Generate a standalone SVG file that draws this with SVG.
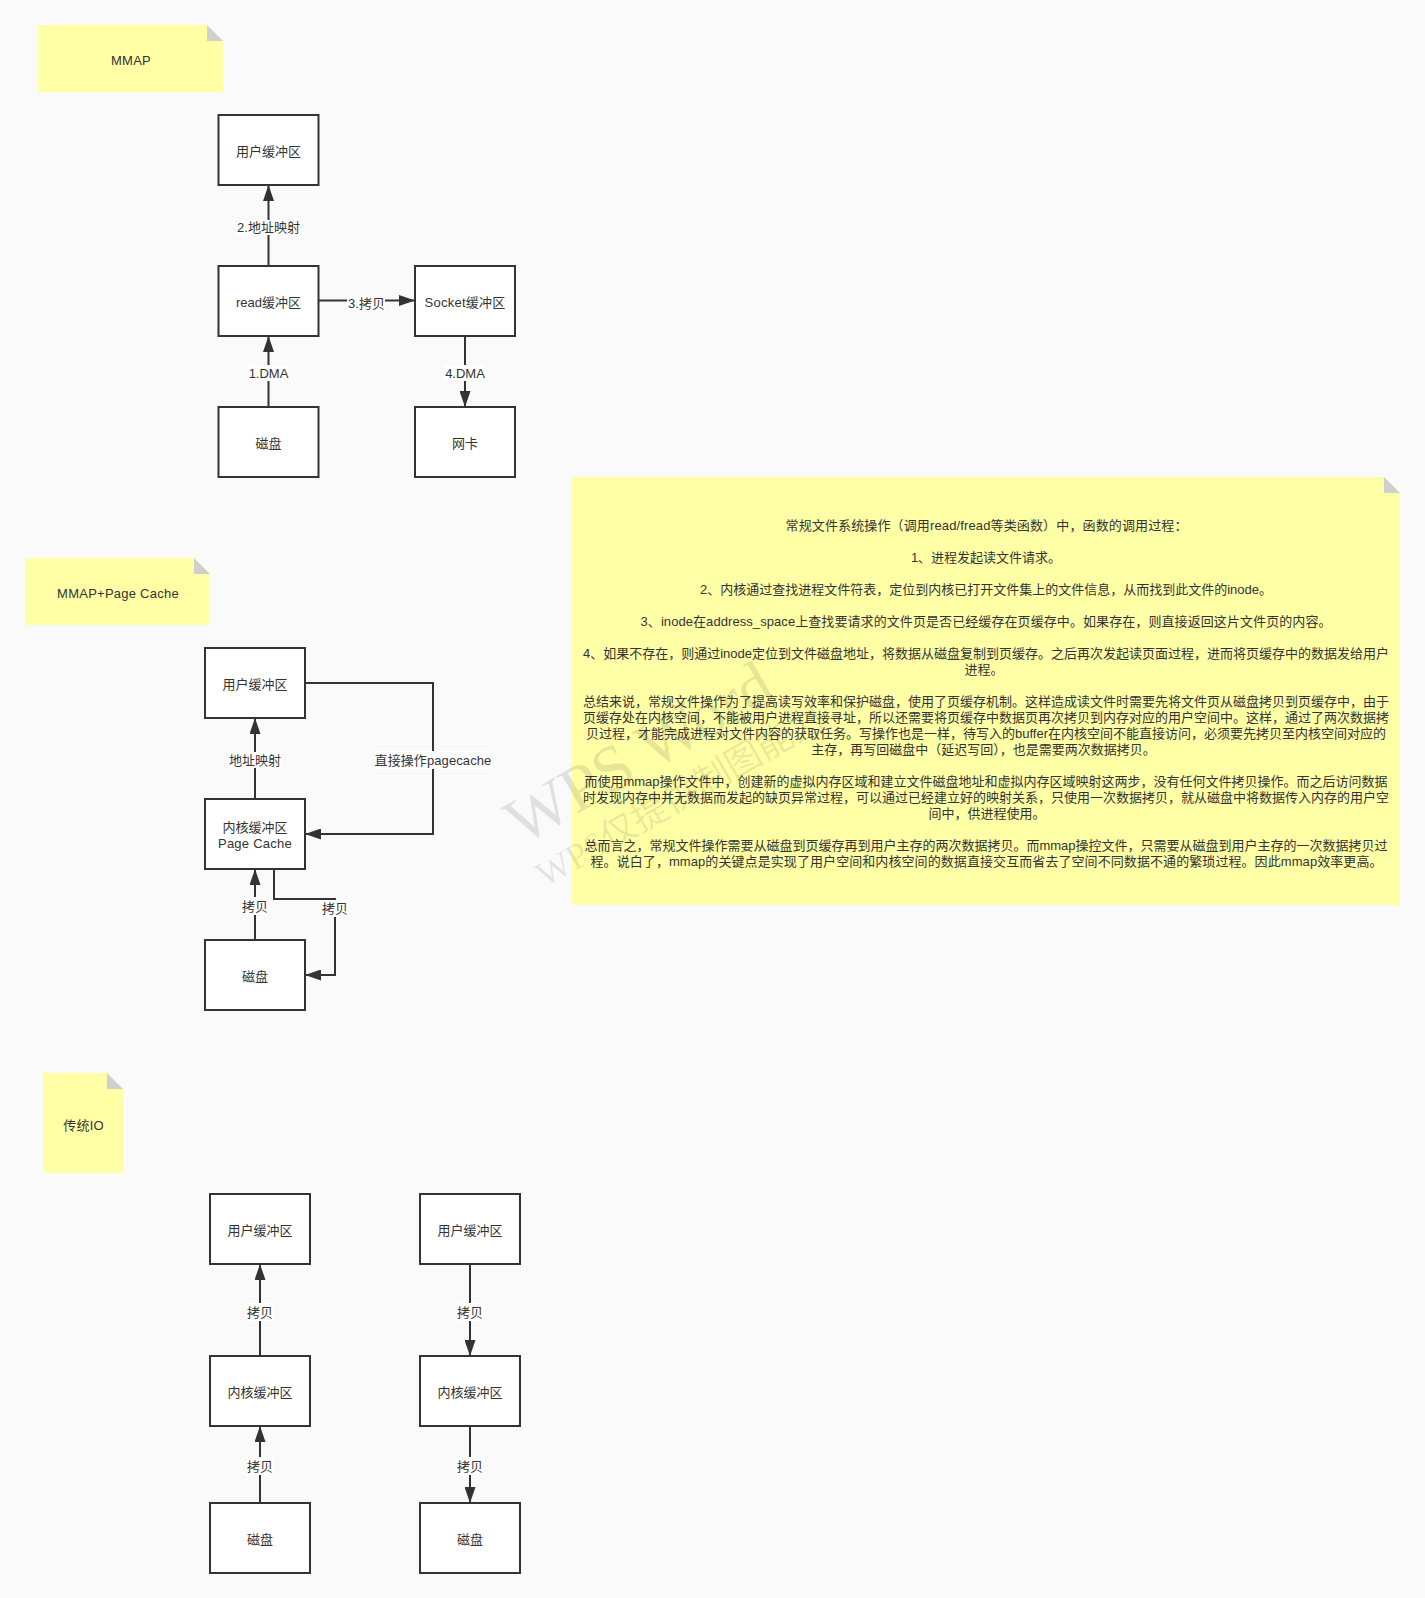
<svg xmlns="http://www.w3.org/2000/svg" width="1425" height="1598" viewBox="0 0 1425 1598">
<style>
text{font-family:"Liberation Sans","Noto Sans CJK SC",sans-serif;font-size:13px;fill:#333;text-anchor:middle}
.l{letter-spacing:.25px}
.box{fill:#fff;stroke:#333;stroke-width:2}
.note{fill:#ffffa6}
.fold{fill:#cfcfcf}
.c{fill:none;stroke:#333;stroke-width:2}
.a{marker-end:url(#ar)}
.lb{fill:#fff}
.wm1{font-family:"Liberation Serif","Noto Sans CJK SC",serif;font-size:66px;fill:#000;fill-opacity:.1;text-anchor:start}
.wm2{font-family:"Liberation Serif","Noto Sans CJK SC",serif;font-size:36px;fill:#000;fill-opacity:.09;text-anchor:start}
</style>
<defs>
<marker id="ar" markerUnits="userSpaceOnUse" viewBox="0 0 16 11" refX="16" refY="5.5" markerWidth="16" markerHeight="11" orient="auto"><path d="M0 0L16 5.500L0 11z" fill="#333"/></marker>
</defs>
<rect width="1425" height="1598" fill="#fafafa"/>
<g id="note-mmap">
<path class="note" d="M38 25H207L223 41V92H38z"/><path class="fold" d="M207 25L223 41H207z"/>
<text class="l" x="131" y="65">MMAP</text></g>
<g id="note-pagecache">
<path class="note" d="M25 558H194L210 574V625H25z"/><path class="fold" d="M194 558L210 574H194z"/>
<text class="l" x="118" y="598">MMAP+Page Cache</text></g>
<g id="note-io">
<path class="note" d="M43 1073H107L123 1089V1173H43z"/><path class="fold" d="M107 1073L123 1089H107z"/>
<text x="83.500" y="1130" class="l">传统IO</text></g>
<g id="note-text">
<path class="note" d="M572 477H1384L1400 493V905H572z"/><path class="fold" d="M1384 477L1400 493H1384z"/>
</g>
<g id="watermark">
<text class="wm1" transform="translate(522 846) rotate(-30)">WPS Word</text>
<text class="wm2" transform="translate(545 888) rotate(-30)">WPS仅提供制图能力</text>
</g>
<g id="note-text-lines">
<text x="986.500" y="529.500" textLength="402">常规文件系统操作（调用read/fread等类函数）中，函数的调用过程：</text>
<text x="986" y="561.500">1、进程发起读文件请求。</text>
<text x="986" y="593.500">2、内核通过查找进程文件符表，定位到内核已打开文件集上的文件信息，从而找到此文件的inode。</text>
<text x="986" y="625.500" textLength="691">3、inode在address_space上查找要请求的文件页是否已经缓存在页缓存中。如果存在，则直接返回这片文件页的内容。</text>
<text x="986" y="657.500">4、如果不存在，则通过inode定位到文件磁盘地址，将数据从磁盘复制到页缓存。之后再次发起读页面过程，进而将页缓存中的数据发给用户</text>
<text x="984" y="673.500">进程。</text>
<text x="986" y="705.500">总结来说，常规文件操作为了提高读写效率和保护磁盘，使用了页缓存机制。这样造成读文件时需要先将文件页从磁盘拷贝到页缓存中，由于</text>
<text x="986" y="721.500">页缓存处在内核空间，不能被用户进程直接寻址，所以还需要将页缓存中数据页再次拷贝到内存对应的用户空间中。这样，通过了两次数据拷</text>
<text x="986" y="737.500">贝过程，才能完成进程对文件内容的获取任务。写操作也是一样，待写入的buffer在内核空间不能直接访问，必须要先拷贝至内核空间对应的</text>
<text x="983.500" y="753.500">主存，再写回磁盘中（延迟写回），也是需要两次数据拷贝。</text>
<text x="986" y="785.500">而使用mmap操作文件中，创建新的虚拟内存区域和建立文件磁盘地址和虚拟内存区域映射这两步，没有任何文件拷贝操作。而之后访问数据</text>
<text x="986" y="801.500">时发现内存中并无数据而发起的缺页异常过程，可以通过已经建立好的映射关系，只使用一次数据拷贝，就从磁盘中将数据传入内存的用户空</text>
<text x="987" y="817.500">间中，供进程使用。</text>
<text x="986" y="849.500">总而言之，常规文件操作需要从磁盘到页缓存再到用户主存的两次数据拷贝。而mmap操控文件，只需要从磁盘到用户主存的一次数据拷贝过</text>
<text x="986.500" y="865.500" textLength="792">程。说白了，mmap的关键点是实现了用户空间和内核空间的数据直接交互而省去了空间不同数据不通的繁琐过程。因此mmap效率更高。</text>
</g>
<g id="connectors">
<path class="c a" d="M268.500 266V185"/>
<rect class="lb" x="237" y="220" width="63" height="15"/><text x="268.500" y="232">2.地址映射</text>
<path class="c a" d="M318 300.500H415"/>
<rect class="lb" x="347" y="296" width="38" height="15"/><text x="366.500" y="307.500">3.拷贝</text>
<path class="c a" d="M268.500 407V336"/>
<rect class="lb" x="249" y="365" width="39" height="16"/><text x="268.500" y="377.500">1.DMA</text>
<path class="c a" d="M465 336V407"/>
<rect class="lb" x="444" y="365" width="41" height="16"/><text x="465" y="377.500">4.DMA</text>
<path class="c a" d="M255 799V718"/>
<rect class="lb" x="229" y="752" width="52" height="16"/><text x="255" y="765">地址映射</text>
<path class="c a" d="M305 683H433V834H305"/>
<rect class="lb" x="374" y="751" width="118" height="18"/><text x="433" y="765" style="letter-spacing:.1px">直接操作pagecache</text>
<path class="c a" d="M255 940V869"/>
<rect class="lb" x="242" y="897" width="26" height="18"/><text x="255" y="911">拷贝</text>
<path class="c a" d="M274 869V899H335V975H305"/>
<rect class="lb" x="322" y="900" width="26" height="17"/><text x="335" y="913">拷贝</text>
<path class="c a" d="M260 1356V1264"/>
<rect class="lb" x="247" y="1303" width="27" height="18"/><text x="260" y="1316.500">拷贝</text>
<path class="c a" d="M260 1503V1426"/>
<rect class="lb" x="247" y="1457" width="27" height="18"/><text x="260" y="1470.500">拷贝</text>
<path class="c a" d="M470 1264V1356"/>
<rect class="lb" x="457" y="1303" width="27" height="18"/><text x="470" y="1316.500">拷贝</text>
<path class="c a" d="M470 1426V1503"/>
<rect class="lb" x="457" y="1457" width="27" height="18"/><text x="470" y="1470.500">拷贝</text>
</g>
<g id="n1"><rect class="box" x="218.500" y="115" width="100" height="70"/><text x="268.500" y="156">用户缓冲区</text></g>
<g id="n2"><rect class="box" x="218.500" y="266" width="100" height="70"/><text x="268.500" y="307">read缓冲区</text></g>
<g id="n3"><rect class="box" x="218.500" y="407" width="100" height="70"/><text x="268.500" y="448">磁盘</text></g>
<g id="n4"><rect class="box" x="415" y="266" width="100" height="70"/><text class="l" x="465" y="307">Socket缓冲区</text></g>
<g id="n5"><rect class="box" x="415" y="407" width="100" height="70"/><text x="465" y="448">网卡</text></g>
<g id="n6"><rect class="box" x="205" y="648" width="100" height="70"/><text x="255" y="689">用户缓冲区</text></g>
<g id="n7"><rect class="box" x="205" y="799" width="100" height="70"/><text x="255" y="832">内核缓冲区</text><text class="l" x="255" y="848">Page Cache</text></g>
<g id="n8"><rect class="box" x="205" y="940" width="100" height="70"/><text x="255" y="981">磁盘</text></g>
<g id="n9"><rect class="box" x="210" y="1194" width="100" height="70"/><text x="260" y="1235">用户缓冲区</text></g>
<g id="n10"><rect class="box" x="210" y="1356" width="100" height="70"/><text x="260" y="1397">内核缓冲区</text></g>
<g id="n11"><rect class="box" x="210" y="1503" width="100" height="70"/><text x="260" y="1544">磁盘</text></g>
<g id="n12"><rect class="box" x="420" y="1194" width="100" height="70"/><text x="470" y="1235">用户缓冲区</text></g>
<g id="n13"><rect class="box" x="420" y="1356" width="100" height="70"/><text x="470" y="1397">内核缓冲区</text></g>
<g id="n14"><rect class="box" x="420" y="1503" width="100" height="70"/><text x="470" y="1544">磁盘</text></g>
</svg>
